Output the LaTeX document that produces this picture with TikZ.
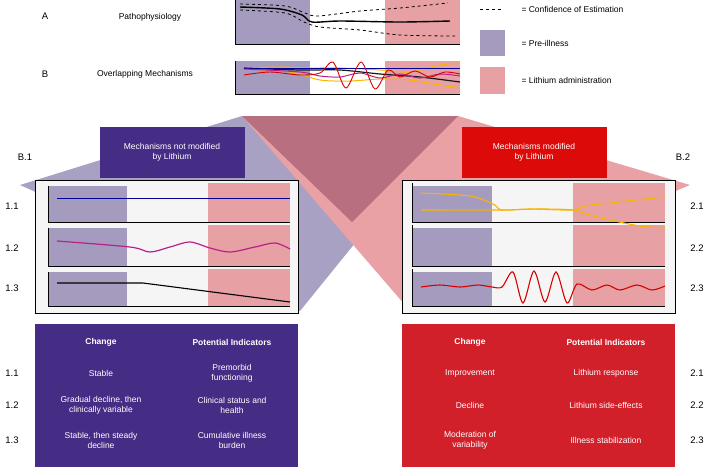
\documentclass[tikz,border=0pt]{standalone}
\usepackage{fontspec}
\setmainfont{Liberation Sans}
\begin{document}
\begin{tikzpicture}[x=1pt,y=-1pt,font=\fontsize{8.5}{10}\selectfont]
\definecolor{pre}{HTML}{A59BBE}
\definecolor{li}{HTML}{E7A0A4}
\definecolor{tpur}{HTML}{A9A1C3}
\definecolor{tpink}{HTML}{EAA1A6}
\definecolor{tover}{HTML}{B86F80}
\definecolor{dpur}{HTML}{452C84}
\definecolor{dred}{HTML}{DD0A0A}
\definecolor{lred}{HTML}{D2202B}
\definecolor{orng}{HTML}{F7B500}
\definecolor{mag}{HTML}{B8208C}
\tikzset{ax/.style={draw=black,line width=0.6pt},
 panel/.style={draw=black,fill=gray!8,line width=0.6pt},
 wt/.style={text=white,align=center},
 lab/.style={font=\fontsize{9.5}{11}\selectfont}}
\useasboundingbox (0,0) rectangle (712,467);
% triangles
\fill[tpur] (458,116)--(242,116)--(20,185)--(300,311)--cycle;
\fill[tpink] (242,116)--(458,116)--(690,185)--(405,305)--cycle;
\fill[tover] (242,116)--(458,116)--(352,222)--cycle;
% A chart
\fill[pre] (235,0) rectangle (310,44);
\fill[li] (385,0) rectangle (460,44);
\draw[ax] (235,0)--(235,44)--(460,44);
\draw[line width=1.4pt] plot[smooth] coordinates{(240,7)(280,9)(302,15)(312,22)(340,21)(400,22)(450,21)};
\draw[dashed,line width=0.8pt] plot[smooth] coordinates{(240,4)(285,6)(305,13)(318,16)(360,11)(400,8)(448,3)};
\draw[dashed,line width=0.8pt] plot[smooth] coordinates{(240,10)(285,13)(304,22)(320,27)(360,30)(400,35)(455,36)};
% B chart
\fill[pre] (235,61) rectangle (310,94);
\fill[li] (385,61) rectangle (460,94);
\draw[ax] (235,61)--(235,94)--(460,94);
\draw[orng,line width=1pt] plot[smooth] coordinates{(244,68)(280,67)(310,68)(340,68)(380,70)(410,72)(440,65)(460,63)};
\draw[orng,line width=1pt] plot[smooth] coordinates{(244,69)(290,72)(320,80)(350,81)(380,79)(410,80)(440,85)(460,88)};
\draw[black!90,line width=1.2pt] plot[smooth] coordinates{(244,68)(300,70)(340,70)(380,74)(420,77)(460,82)};
\draw[blue!60!black,line width=0.7pt] (244,68)--(460,68);
\draw[mag,line width=1pt] plot[smooth] coordinates{(244,69)(300,72)(320,76)(340,77)(360,73)(380,78)(400,74)(420,78)(440,74)(460,76)};
\draw[red!85!black,line width=0.9pt] plot[smooth] coordinates{(244,75)(270,72)(300,75)(320,73)(333,62)(346,88)(361,62)(375,89)(388,70)(400,77)(415,71)(430,77)(445,72)(460,74)};
% legend
\draw[dashed,line width=1pt] (480,9)--(503,9);
\node[anchor=west] (lc) at (518,9) {= Confidence of Estimation};
\fill[pre] (480,30) rectangle (505,56);
\node[anchor=west] (lp) at (518,43) {= Pre-illness};
\fill[li] (480,67) rectangle (505,94);
\node[anchor=west] (ll) at (518,80) {= Lithium administration};
\node[lab] (A) at (45,16) {A};
\node (pa) at (150,17) {Pathophysiology};
\node[lab] (B) at (45,74) {B};
\node (om) at (145,74) {Overlapping Mechanisms};
\node[lab] (b1) at (25,157) {B.1};
\node[lab] (b2) at (683,157) {B.2};
\node[wt,fill=dpur,minimum width=145pt,minimum height=51pt] (nm) at (172,152) {Mechanisms not modified\\by Lithium};
\node[wt,fill=dred,minimum width=145pt,minimum height=51pt] (mm) at (534,152) {Mechanisms modified\\by Lithium};
% panels
\draw[panel] (35,180) rectangle (298,313);
\draw[panel] (402,180) rectangle (675,313);
\foreach \y/\h in {186/36,228/38,272/34}{
 \fill[pre] (48,\y) rectangle (127,\y+\h);
 \fill[li] (208,\y-3) rectangle (290,\y+\h);
 \draw[ax] (48,\y)--(48,\y+\h)--(290,\y+\h);
 \fill[pre] (412,\y) rectangle (492,\y+\h);
 \fill[li] (573,\y-3) rectangle (665,\y+\h);
 \draw[ax] (412,\y-3)--(412,\y+\h)--(665,\y+\h);}
\draw[blue!60!black,line width=0.8pt] (57,198)--(290,198);
\draw[mag,line width=1.2pt] plot[smooth] coordinates{(57,241)(130,247)(150,252)(170,247)(190,242)(210,248)(230,252)(255,247)(275,243)(290,249)};
\draw[black,line width=1.1pt] (57,283)--(143,283)--(290,302);
\draw[orng,line width=1.1pt] plot[smooth] coordinates{(421,193)(470,196)(493,204)(502,210)(530,209)(572,210)(585,206)(610,203)(635,200)(665,197)};
\draw[orng,line width=1.1pt] plot[smooth] coordinates{(421,210)(500,210)(540,209)(573,210)(590,215)(610,220)(640,226)(665,228)};
\draw[red!85!black,line width=1.1pt] plot[smooth] coordinates{(421,287)(440,285)(460,287)(478,285)(492,287)(502,287)(513,272)(523,303)(534,271)(545,302)(556,272)(567,303)(577,284)(592,290)(607,285)(620,290)(637,285)(652,290)(665,286)};
% bottom boxes
\fill[dpur] (35,324) rectangle (298,467);
\fill[lred] (402,324) rectangle (675,467);
\node[wt,font=\fontsize{8.5}{10}\selectfont\bfseries] (c1) at (101,342) {Change};
\node[wt,font=\fontsize{8.5}{10}\selectfont\bfseries] (p1) at (232,342) {Potential Indicators};
\node[wt,font=\fontsize{8.5}{10}\selectfont\bfseries] (c2) at (470,342) {Change};
\node[wt,font=\fontsize{8.5}{10}\selectfont\bfseries] (p2) at (606,342) {Potential Indicators};
\node[wt] (s1) at (101,373) {Stable};
\node[wt] (s2) at (101,405) {Gradual decline, then\\clinically variable};
\node[wt] (s3) at (101,440) {Stable, then steady\\decline};
\node[wt] (i1) at (232,373) {Premorbid\\functioning};
\node[wt] (i2) at (232,405) {Clinical status and\\health};
\node[wt] (i3) at (232,440) {Cumulative illness\\burden};
\node[wt] (r1) at (470,373) {Improvement};
\node[wt] (r2) at (470,405) {Decline};
\node[wt] (r3) at (470,440) {Moderation of\\variability};
\node[wt] (j1) at (606,373) {Lithium response};
\node[wt] (j2) at (606,405) {Lithium side-effects};
\node[wt] (j3) at (606,440) {Illness stabilization};
\foreach \t/\y in {1.1/206,1.2/248,1.3/288}{\node[lab] at (12,\y) {\t};}
\foreach \t/\y in {1.1/373,1.2/405,1.3/440}{\node[lab] at (12,\y) {\t};}
\foreach \t/\y in {2.1/206,2.2/248,2.3/288}{\node[lab] at (697,\y) {\t};}
\foreach \t/\y in {2.1/373,2.2/405,2.3/440}{\node[lab] at (697,\y) {\t};}
\end{tikzpicture}
\end{document}
